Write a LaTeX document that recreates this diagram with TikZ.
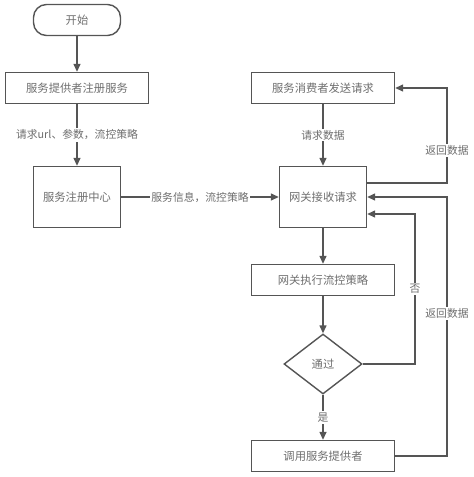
\documentclass[tikz,border=0pt]{standalone}
\usepackage{fontspec}
\setmainfont{Noto Sans CJK SC}
\usetikzlibrary{arrows.meta,positioning,shapes.geometric}

\definecolor{linegray}{HTML}{555555}
\definecolor{txtgray}{HTML}{6E6E6E}

\tikzset{
  box/.style={draw=linegray,line width=1.4pt,minimum width=143pt,minimum height=31pt,
    inner sep=0pt,text=txtgray,font=\fontsize{11.3}{13}\selectfont},
  bigbox/.style={box,minimum width=87pt,minimum height=61pt},
  startbox/.style={box,minimum width=87pt,minimum height=31pt,rounded corners=13pt},
  decision/.style={draw=linegray,line width=1.4pt,diamond,minimum width=78pt,minimum height=60pt,
    inner sep=0pt,text=txtgray,font=\fontsize{11.3}{13}\selectfont},
  lbl/.style={fill=white,text=txtgray,inner sep=1.5pt,font=\fontsize{10.8}{12}\selectfont}
}

\begin{document}
\begin{tikzpicture}[x=1pt,y=-1pt,->,>={Triangle[length=8pt,width=7pt]},line width=1.4pt,draw=linegray]
\useasboundingbox (0,0) rectangle (474,477);

% left column
\node[startbox] (start) at (77,20) {开始};
\node[box] (provider) [below of=start,node distance=68pt] {服务提供者注册服务};
\node[bigbox] (registry) [below of=provider,node distance=109pt] {服务注册中心};

% right column
\node[box] (consumer) at (323,88) {服务消费者发送请求};
\node[bigbox] (gateway) [below of=consumer,node distance=109pt] {网关接收请求};
\node[box] (exec) [below of=gateway,node distance=83pt] {网关执行流控策略};
\node[decision] (pass) [below of=exec,node distance=84pt] {通过};
\node[box] (invoke) [below of=pass,node distance=92pt] {调用服务提供者};

\path (start) edge (provider)
      (provider) edge node[lbl] {请求url、参数，流控策略} (registry)
      (registry) edge node[lbl] {服务信息，流控策略} (gateway)
      (consumer) edge node[lbl] {请求数据} (gateway)
      (gateway) edge (exec)
      (exec) edge (pass)
      (pass) edge node[lbl] {是} (invoke);

\draw (pass.east) -- (415,364) -- node[lbl] {否} (415,214) -- ([yshift=-17pt]gateway.east);
\draw (invoke.east) -- (447,456) -- node[lbl,pos=0.55] {返回数据} (447,197) -- (gateway.east);
\draw ([yshift=14pt]gateway.east) -- (447,183) -- node[lbl,pos=0.34] {返回数据} (447,88) -- (consumer.east);

\end{tikzpicture}
\end{document}
